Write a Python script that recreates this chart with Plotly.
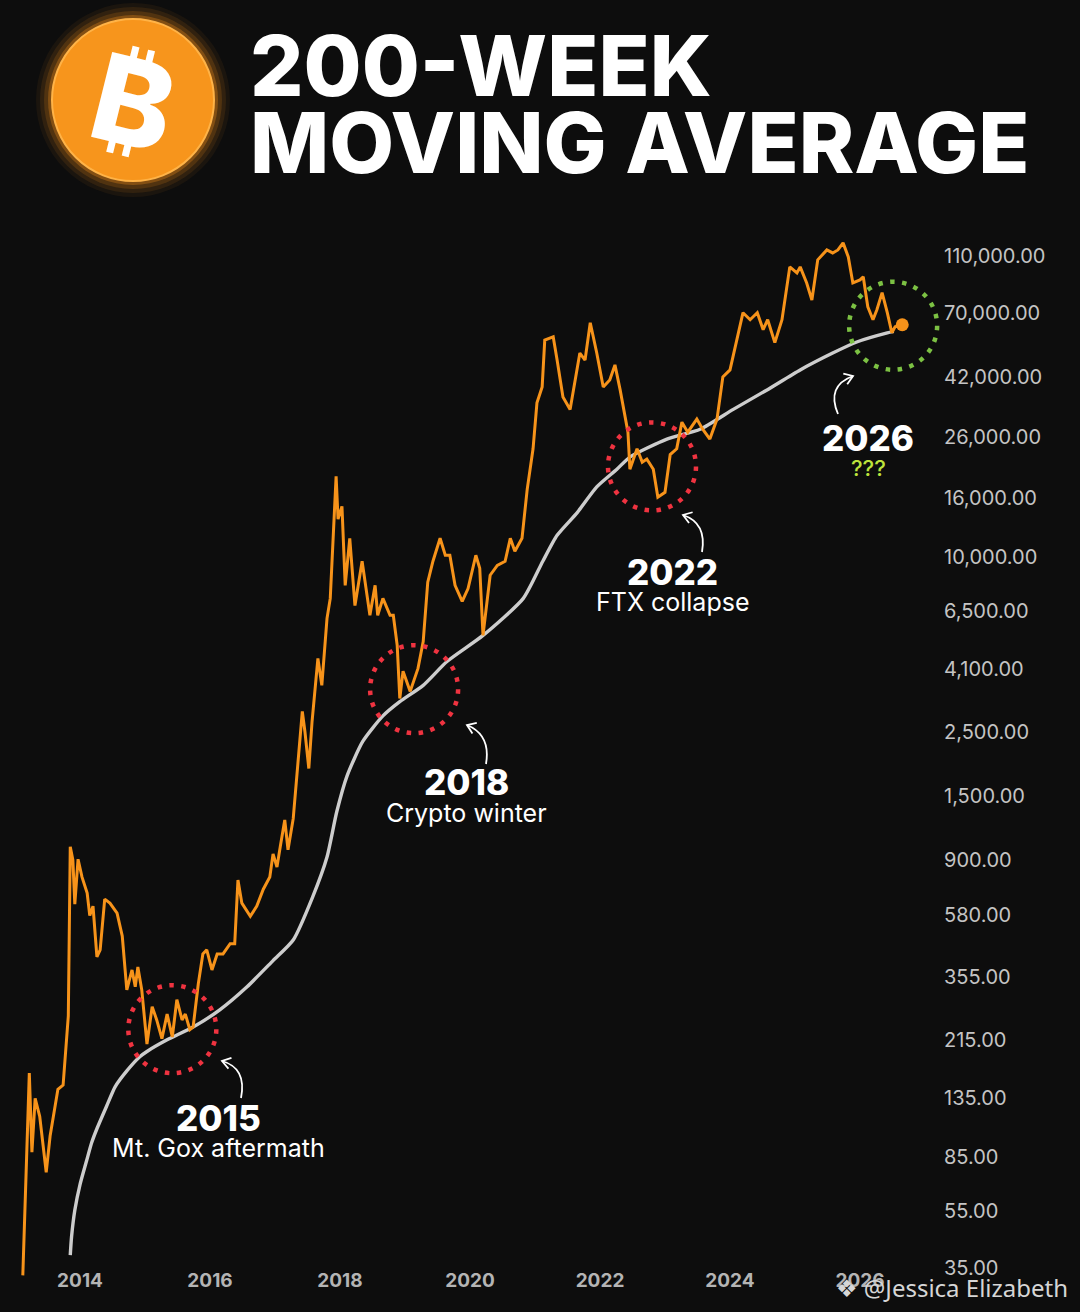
import math
import plotly.graph_objects as go

# BTC weekly close (decimal years)
price_years = [
    2013.12, 2013.22, 2013.26, 2013.31, 2013.38, 2013.48, 2013.54, 2013.66, 2013.74, 2013.82,
    2013.85, 2013.89, 2013.92, 2013.97, 2014.03, 2014.11, 2014.15, 2014.20, 2014.26, 2014.31,
    2014.38, 2014.46, 2014.57, 2014.65, 2014.72, 2014.80, 2014.85, 2014.89, 2014.95, 2015.03,
    2015.11, 2015.18, 2015.26, 2015.34, 2015.42, 2015.49, 2015.57, 2015.62, 2015.69, 2015.74,
    2015.82, 2015.89, 2015.95, 2016.03, 2016.11, 2016.20, 2016.31, 2016.38, 2016.43, 2016.49,
    2016.62, 2016.72, 2016.82, 2016.92, 2016.97, 2017.03, 2017.08, 2017.15, 2017.20, 2017.28,
    2017.42, 2017.46, 2017.52, 2017.57, 2017.66, 2017.72, 2017.80, 2017.85, 2017.94, 2017.97,
    2018.03, 2018.08, 2018.15, 2018.23, 2018.34, 2018.42, 2018.46, 2018.54, 2018.58, 2018.66,
    2018.77, 2018.82, 2018.88, 2018.92, 2018.97, 2019.08, 2019.20, 2019.28, 2019.35, 2019.43,
    2019.54, 2019.62, 2019.69, 2019.77, 2019.88, 2019.97, 2020.09, 2020.15, 2020.20, 2020.31,
    2020.42, 2020.54, 2020.62, 2020.69, 2020.80, 2020.88, 2020.97, 2021.03, 2021.11, 2021.15,
    2021.28, 2021.34, 2021.43, 2021.54, 2021.62, 2021.69, 2021.77, 2021.85, 2021.95, 2022.05,
    2022.15, 2022.23, 2022.31, 2022.43, 2022.46, 2022.57, 2022.65, 2022.72, 2022.82, 2022.89,
    2023.00, 2023.08, 2023.18, 2023.26, 2023.35, 2023.49, 2023.58, 2023.69, 2023.80, 2023.89,
    2024.00, 2024.11, 2024.20, 2024.31, 2024.42, 2024.51, 2024.58, 2024.69, 2024.80, 2024.92,
    2025.03, 2025.08, 2025.18, 2025.26, 2025.35, 2025.49, 2025.58, 2025.66, 2025.74, 2025.82,
    2025.89, 2026.00, 2026.05, 2026.12, 2026.20, 2026.26, 2026.34, 2026.42, 2026.49, 2026.54,
    2026.65,
]
price_values = [
    33, 165, 88, 135, 117, 75, 100, 145, 150, 260,
    1000, 900, 633, 905, 786, 691, 578, 623, 416, 440,
    659, 638, 589, 491, 320, 375, 328, 384, 320, 208,
    280, 252, 217, 264, 220, 296, 252, 264, 233, 238,
    336, 426, 440, 375, 426, 426, 462, 462, 767, 638,
    575, 623, 713, 786, 944, 850, 998, 1237, 975, 1250,
    2933, 2500, 1863, 2707, 4470, 3610, 6150, 7210, 19060, 13540,
    15000, 8000, 11630, 6810, 9690, 7210, 6300, 8000, 6300, 7210,
    6300, 6300, 4960, 3250, 4040, 3440, 4130, 5110, 8200, 9690,
    11630, 10160, 10160, 8000, 7040, 7800, 10160, 9160, 5370, 8670,
    9380, 9690, 11630, 10490, 11630, 17170, 23700, 34150, 38780, 56300,
    57750, 48030, 35800, 32420, 42000, 50770, 48030, 64640, 50770, 38780,
    41000, 46200, 37870, 27050, 20140, 23700, 21320, 21850, 20140, 16120,
    16770, 22640, 23700, 29300, 27050, 30020, 27700, 25600, 30020, 42000,
    44400, 57750, 70000, 66200, 70000, 61140, 66200, 55150, 66200, 100800,
    96080, 100800, 88690, 77390, 106600, 115300, 112600, 115300, 122000, 109100,
    88690, 90900, 93100, 73400, 66200, 71700, 82100, 70000, 59680, 62600,
    63600,
]

# 200-week moving average
ma_years = [
    2013.85, 2013.87, 2013.92, 2014.00, 2014.10, 2014.18, 2014.26, 2014.41, 2014.54, 2014.72,
    2014.92, 2015.03, 2015.34, 2015.74, 2016.15, 2016.57, 2016.97, 2017.28, 2017.58, 2017.80,
    2017.95, 2018.11, 2018.35, 2018.66, 2018.92, 2019.28, 2019.65, 2020.20, 2020.82, 2021.12,
    2021.34, 2021.65, 2021.95, 2022.26, 2022.46, 2023.03, 2023.54, 2024.05, 2024.57, 2025.08,
    2025.58, 2025.95, 2026.42, 2026.52,
]
ma_values = [
    38.8, 44.9, 55.4, 68, 82, 95, 106, 127, 148, 168,
    188, 196, 215, 238, 273, 328, 404, 476, 671, 921,
    1320, 1760, 2310, 2830, 3170, 3610, 4370, 5370, 7210, 9690,
    11910, 14270, 17500, 20140, 22200, 25600, 27700, 32440, 37870, 44400,
    50770, 55450, 59600, 60300,
]

# highlighted episodes
event_years = [2015.42, 2019.14, 2022.80, 2026.51]
event_prices = [234, 3500, 20600, 63100]
event_labels = ["2015", "2018", "2022", "2026"]
event_notes = ["Mt. Gox aftermath", "Crypto winter", "FTX collapse", "???"]

y_ticks = [35, 55, 85, 135, 215, 355, 580, 900, 1500, 2500, 4100, 6500,
           10000, 16000, 26000, 42000, 70000, 110000]
x_ticks = [2014, 2016, 2018, 2020, 2022, 2024, 2026]

W, H = 1080, 1312
ML, MR, MT, MB = 0, 145, 220, 18
PW, PH = W - ML - MR, H - MT - MB
X0, X1 = 2012.769, 2027.154
Y0, Y1 = 1.4543, 5.1654

ORANGE = "#F7931A"
BG = "#0d0d0d"
FONT = "Inter, Noto Sans, DejaVu Sans"


def paper(x, y):
    # page pixel -> paper coordinates
    return (x - ML) / PW, (H - MB - y) / PH


def data_px(yr, p):
    # data point -> page pixel, through the axis ranges
    return ML + PW * (yr - X0) / (X1 - X0), MT + PH * (Y1 - math.log10(p)) / (Y1 - Y0)


fig = go.Figure()

fig.add_trace(go.Scatter(
    x=ma_years, y=ma_values, mode="lines",
    line=dict(color="#cdcdcd", width=3.4, shape="spline", smoothing=0.6),
    hoverinfo="skip",
))
fig.add_trace(go.Scatter(
    x=price_years, y=price_values, mode="lines",
    line=dict(color=ORANGE, width=3),
    hoverinfo="skip",
))
fig.add_trace(go.Scatter(
    x=price_years[-1:], y=price_values[-1:], mode="markers",
    marker=dict(color=ORANGE, size=13),
    hoverinfo="skip",
))

shapes = []
# dotted circles round each episode
R = 44
for i, (yr, p) in enumerate(zip(event_years, event_prices)):
    col = "#7cc143" if i == len(event_years) - 1 else "#ef3340"
    cx, cy = data_px(yr, p)
    x0, y0 = paper(cx - R, cy + R)
    x1, y1 = paper(cx + R, cy - R)
    shapes.append(dict(
        type="circle", xref="paper", yref="paper",
        x0=x0, y0=y0, x1=x1, y1=y1,
        line=dict(color=col, width=4.5, dash="4.5px,7.5px"),
    ))

# curved arrows from label up to circle (pixel start, control, tip)
arrows = [
    ((241, 1098), (247, 1068), (222, 1061)),
    ((486, 764), (491, 735), (467, 725)),
    ((702, 552), (707, 523), (683, 515)),
    ((838, 414), (826, 386), (853, 376)),
]
for (s, c, e) in arrows:
    sx, sy = paper(*s)
    cx, cy = paper(*c)
    ex, ey = paper(*e)
    shapes.append(dict(
        type="path", xref="paper", yref="paper",
        path=f"M {sx},{sy} Q {cx},{cy} {ex},{ey}",
        line=dict(color="white", width=1.8),
    ))
    dx, dy = e[0] - c[0], e[1] - c[1]
    n = math.hypot(dx, dy)
    dx, dy = dx / n, dy / n
    pts = []
    for a in (0.6, -0.6):
        rx = dx * math.cos(a) - dy * math.sin(a)
        ry = dx * math.sin(a) + dy * math.cos(a)
        pts.append(paper(e[0] - 10 * rx, e[1] - 10 * ry))
    shapes.append(dict(
        type="path", xref="paper", yref="paper",
        path=f"M {pts[0][0]},{pts[0][1]} L {ex},{ey} L {pts[1][0]},{pts[1][1]}",
        line=dict(color="white", width=1.8),
    ))

# bitcoin logo with glow
lx, ly, lr = 133, 100, 81
for k, op in [(16, 0.06), (12, 0.10), (8, 0.16), (4, 0.30)]:
    x0, y0 = paper(lx - lr - k, ly + lr + k)
    x1, y1 = paper(lx + lr + k, ly - lr - k)
    shapes.append(dict(type="circle", xref="paper", yref="paper",
                       x0=x0, y0=y0, x1=x1, y1=y1,
                       fillcolor=ORANGE, opacity=op, line=dict(width=0)))
x0, y0 = paper(lx - lr, ly + lr)
x1, y1 = paper(lx + lr, ly - lr)
shapes.append(dict(type="circle", xref="paper", yref="paper",
                   x0=x0, y0=y0, x1=x1, y1=y1,
                   fillcolor="#f7951c", line=dict(color="#ffb347", width=2)))

annotations = []
bx, by = paper(lx + 1, ly + 2)
annotations.append(dict(
    x=bx, y=by, xref="paper", yref="paper", text="₿", showarrow=False,
    textangle=14, xanchor="center", yanchor="middle",
    font=dict(family=FONT, size=120, color="white", weight=800),
))

# title
for txt, yy in [("200-WEEK", 66), ("MOVING AVERAGE", 142)]:
    tx, ty = paper(248, yy)
    annotations.append(dict(
        x=tx, y=ty, xref="paper", yref="paper", text=txt, showarrow=False,
        xanchor="left", yanchor="middle",
        font=dict(family=FONT, size=84, color="white", weight=800),
    ))

# episode labels
label_pos = [(218, 1118, 1148), (466, 782, 813), (672, 572, 602), (868, 438, 468)]
for i, (cx, y1, y2) in enumerate(label_pos):
    last = i == len(label_pos) - 1
    ax_, ay_ = paper(cx, y1)
    annotations.append(dict(
        x=ax_, y=ay_, xref="paper", yref="paper", text=event_labels[i], showarrow=False,
        xanchor="center", yanchor="middle",
        font=dict(family=FONT, size=35, color="white", weight=800),
    ))
    ax_, ay_ = paper(cx, y2)
    annotations.append(dict(
        x=ax_, y=ay_, xref="paper", yref="paper", text=event_notes[i], showarrow=False,
        xanchor="center", yanchor="middle",
        font=dict(family=FONT, size=22 if last else 25,
                  color="#bde43c" if last else "white", weight=500 if last else 400),
    ))

# watermark
wx, wy = paper(1070, 1287)
annotations.append(dict(
    x=wx, y=wy, xref="paper", yref="paper", text="❖ @Jessica Elizabeth", showarrow=False,
    xanchor="right", yanchor="middle",
    font=dict(family="Noto Sans, DejaVu Sans", size=24, color="#d6d6d6"),
))

fig.update_layout(
    width=W, height=H,
    margin=dict(l=ML, r=MR, t=MT, b=MB),
    paper_bgcolor=BG, plot_bgcolor=BG,
    showlegend=False,
    shapes=shapes,
    annotations=annotations,
    xaxis=dict(
        range=[X0, X1],
        tickvals=x_ticks, ticktext=[str(t) for t in x_ticks],
        ticklabelposition="inside", ticks="",
        showgrid=False, zeroline=False, showline=False,
        tickfont=dict(family=FONT, size=19, color="#b4b4b4", weight=700),
    ),
    yaxis=dict(
        type="log", range=[Y0, Y1], side="right",
        tickvals=y_ticks, tickformat=",.2f", ticks="",
        ticklabelstandoff=8,
        showgrid=False, zeroline=False, showline=False,
        tickfont=dict(family=FONT, size=20, color="#c4c4c4"),
    ),
)

fig.write_html("out.html", config={"displayModeBar": False},
               post_script="document.body.style.margin='0';")
